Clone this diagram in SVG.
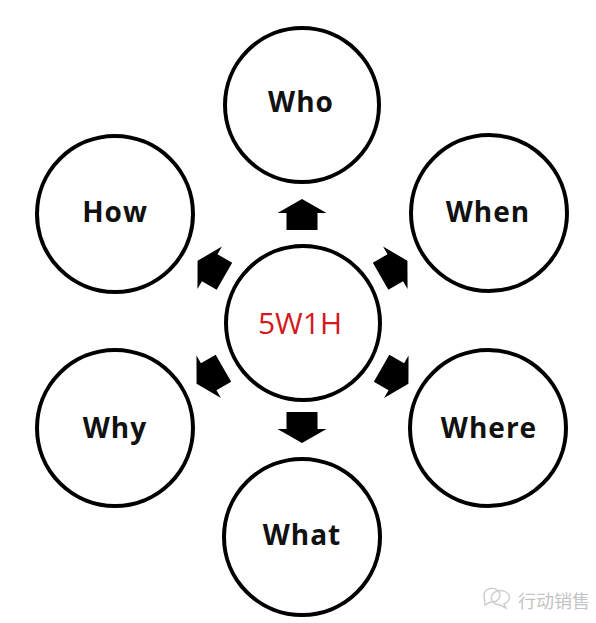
<svg xmlns="http://www.w3.org/2000/svg" width="596" height="623" viewBox="0 0 596 623">
<defs>
<style>
.node circle{fill:#fff;stroke:#000;stroke-width:4}
.lbl{font-family:"Open Sans","Liberation Sans",sans-serif;font-weight:bold;font-size:28px;fill:#111;text-anchor:middle;letter-spacing:1px}
.ctr{font-family:"Open Sans","Liberation Sans",sans-serif;font-size:30px;fill:#d41920;text-anchor:middle}
.wm{font-family:"Noto Sans CJK SC",sans-serif;font-size:18px;fill:#c4c4c4}
</style>
<path id="arr" d="M0,-15.5 L24.5,-1.5 L15.5,-1.5 L15.5,15.5 L-15.5,15.5 L-15.5,-1.5 L-24.5,-1.5 Z" fill="#000"/>
</defs>
<rect width="596" height="623" fill="#fff"/>
<g id="connectors">
<use href="#arr" transform="translate(302,214.5)"/>
<use href="#arr" transform="translate(302,427.5) rotate(180)"/>
<use href="#arr" transform="translate(211,268.5) rotate(-60)"/>
<use href="#arr" transform="translate(394,268.5) rotate(60)"/>
<use href="#arr" transform="translate(210,376) rotate(-120)"/>
<use href="#arr" transform="translate(395,376) rotate(120)"/>
</g>
<g id="center" class="node"><circle cx="303" cy="323" r="77"/><text class="ctr" x="300" y="334">5W1H</text></g>
<g id="who" class="node"><circle cx="302" cy="105" r="77"/><text class="lbl" x="301" y="112">Who</text></g>
<g id="how" class="node"><circle cx="115" cy="214" r="78"/><text class="lbl" x="115" y="222">How</text></g>
<g id="when" class="node"><circle cx="489" cy="213" r="78"/><text class="lbl" x="488" y="222">When</text></g>
<g id="why" class="node"><circle cx="115" cy="428" r="78"/><text class="lbl" x="115" y="438">Why</text></g>
<g id="where" class="node"><circle cx="488" cy="428" r="78"/><text class="lbl" x="489" y="438">Where</text></g>
<g id="what" class="node"><circle cx="302" cy="537" r="78"/><text class="lbl" x="302" y="545">What</text></g>
<g id="watermark">
<path d="M484,596 a8,7 0 1 1 6,6 l-5,3 z" fill="none" stroke="#cfcfcf" stroke-width="1.5"/>
<path d="M492,600 a9,7 0 1 1 12,4 l2,4 -6,-3 a9,7 0 0 1 -8,-5 z" fill="none" stroke="#cfcfcf" stroke-width="1.5"/>
<text class="wm" x="518" y="608">行动销售</text>
</g>
</svg>
